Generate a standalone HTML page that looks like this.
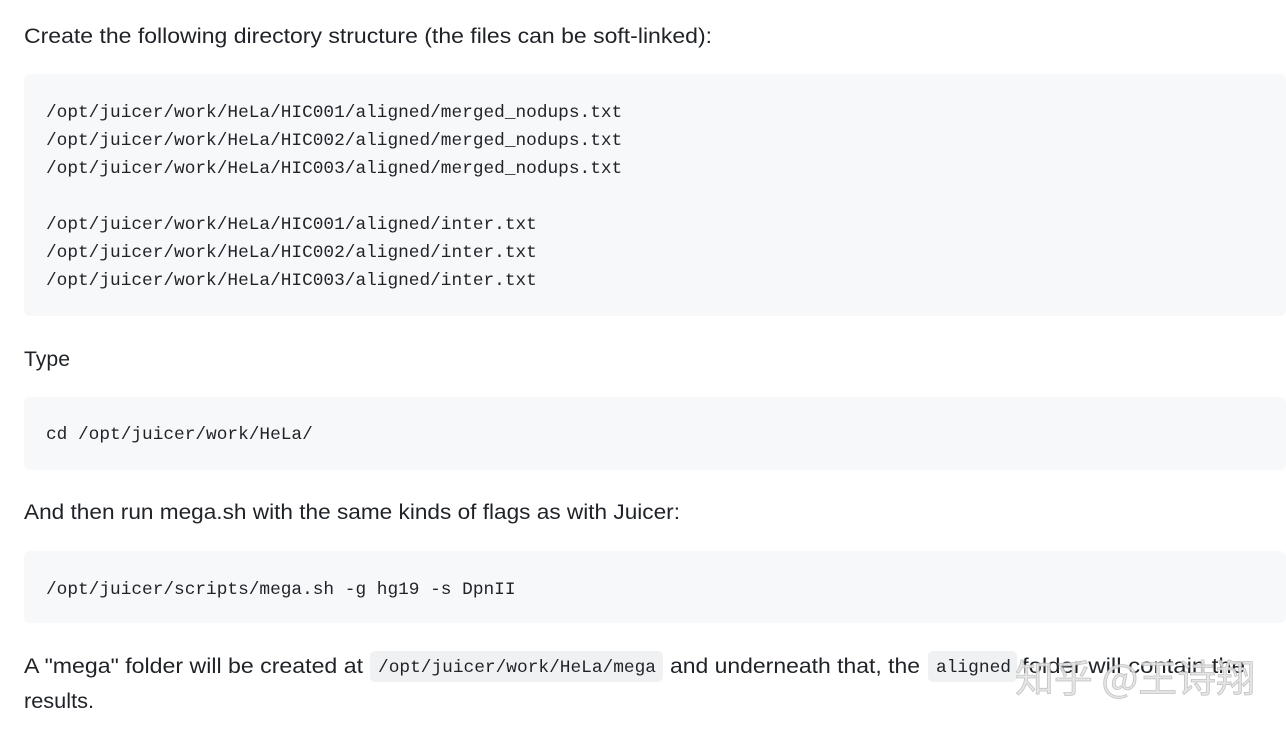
<!DOCTYPE html>
<html><head><meta charset="utf-8"><style>
html,body{margin:0;padding:0;background:#fff;width:1286px;height:730px;overflow:hidden}
svg{display:block}
.t{font-family:"Liberation Sans",sans-serif;font-size:21px;fill:#1f2328}
.c{font-family:"Liberation Mono",monospace;font-size:17.8px;fill:#1f2328}
</style></head><body>
<svg width="1286" height="730" xmlns="http://www.w3.org/2000/svg">
<text class="t" x="24" y="43" textLength="688" lengthAdjust="spacingAndGlyphs">Create the following directory structure (the files can be soft-linked):</text>
<rect x="24" y="74" width="1262" height="242" rx="6" fill="#f6f8fa"/>
<text class="c" x="46" y="117">/opt/juicer/work/HeLa/HIC001/aligned/merged_nodups.txt</text>
<text class="c" x="46" y="145">/opt/juicer/work/HeLa/HIC002/aligned/merged_nodups.txt</text>
<text class="c" x="46" y="173">/opt/juicer/work/HeLa/HIC003/aligned/merged_nodups.txt</text>
<text class="c" x="46" y="229">/opt/juicer/work/HeLa/HIC001/aligned/inter.txt</text>
<text class="c" x="46" y="257">/opt/juicer/work/HeLa/HIC002/aligned/inter.txt</text>
<text class="c" x="46" y="285">/opt/juicer/work/HeLa/HIC003/aligned/inter.txt</text>
<text class="t" x="24" y="366" textLength="46" lengthAdjust="spacingAndGlyphs">Type</text>
<rect x="24" y="397" width="1262" height="73" rx="6" fill="#f6f8fa"/>
<text class="c" x="46" y="439">cd /opt/juicer/work/HeLa/</text>
<text class="t" x="24" y="519" textLength="656" lengthAdjust="spacingAndGlyphs">And then run mega.sh with the same kinds of flags as with Juicer:</text>
<rect x="24" y="551" width="1262" height="72" rx="6" fill="#f6f8fa"/>
<text class="c" x="46" y="594">/opt/juicer/scripts/mega.sh -g hg19 -s DpnII</text>
<text class="t" x="24" y="673" textLength="339" lengthAdjust="spacingAndGlyphs">A "mega" folder will be created at</text>
<rect x="370" y="651" width="293" height="31" rx="5" fill="#eff1f3"/>
<text class="c" x="378" y="672" textLength="278" lengthAdjust="spacingAndGlyphs">/opt/juicer/work/HeLa/mega</text>
<text class="t" x="670" y="673" textLength="250" lengthAdjust="spacingAndGlyphs">and underneath that, the</text>
<rect x="928" y="651" width="89" height="31" rx="5" fill="#eff1f3"/>
<text class="c" x="936" y="672" textLength="75" lengthAdjust="spacingAndGlyphs">aligned</text>
<text class="t" x="1022" y="673" textLength="223" lengthAdjust="spacingAndGlyphs">folder will contain the</text>
<text class="t" x="24" y="708" textLength="70" lengthAdjust="spacingAndGlyphs">results.</text>
<text x="1015" y="692" font-family="'Noto Sans CJK SC',sans-serif" font-size="38" fill="#e4e4e4" stroke="#bdbdbd" stroke-width="0.8" textLength="240" lengthAdjust="spacingAndGlyphs" opacity="0.9">知乎 @王诗翔</text>
</svg>
</body></html>
